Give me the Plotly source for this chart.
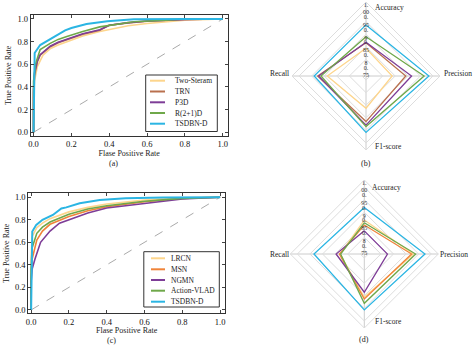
import plotly.graph_objects as go

# ---------------- data ----------------
# ROC panel (a)
fpr_two_steram = [0, 0.0, 0.005, 0.02, 0.05, 0.09, 0.13, 0.18, 0.26, 0.35, 0.5, 0.6, 0.8, 1.0]
tpr_two_steram = [0, 0.30, 0.45, 0.58, 0.68, 0.74, 0.77, 0.80, 0.85, 0.89, 0.94, 0.96, 0.99, 1.0]
fpr_trn = [0, 0.0, 0.005, 0.02, 0.035, 0.088, 0.13, 0.176, 0.26, 0.35, 0.4, 0.5, 0.6, 0.8, 1.0]
tpr_trn = [0, 0.35, 0.50, 0.62, 0.68, 0.755, 0.79, 0.815, 0.865, 0.90, 0.945, 0.965, 0.98, 0.995, 1.0]
fpr_p3d = [0, 0.0, 0.005, 0.02, 0.035, 0.088, 0.13, 0.176, 0.26, 0.35, 0.4, 0.5, 0.6, 0.8, 1.0]
tpr_p3d = [0, 0.38, 0.52, 0.63, 0.685, 0.76, 0.795, 0.82, 0.87, 0.905, 0.945, 0.968, 0.982, 0.996, 1.0]
fpr_r21d = [0, 0.0, 0.01, 0.035, 0.088, 0.13, 0.176, 0.26, 0.35, 0.53, 0.7, 0.8, 1.0]
tpr_r21d = [0, 0.45, 0.60, 0.73, 0.785, 0.82, 0.845, 0.89, 0.93, 0.975, 0.99, 1.0, 1.0]
fpr_tsdbn_a = [0, 0.003, 0.006, 0.035, 0.088, 0.14, 0.167, 0.2, 0.28, 0.39, 0.53, 0.8, 1.0]
tpr_tsdbn_a = [0, 0.60, 0.70, 0.77, 0.82, 0.87, 0.90, 0.92, 0.955, 0.98, 0.997, 1.0, 1.0]

# ROC panel (c)
fpr_lrcn = [0, 0.0, 0.005, 0.03, 0.06, 0.1, 0.2, 0.3, 0.4, 0.6, 0.8, 1.0]
tpr_lrcn = [0, 0.45, 0.65, 0.73, 0.77, 0.81, 0.87, 0.91, 0.94, 0.975, 0.995, 1.0]
fpr_msn = [0, 0.0, 0.005, 0.03, 0.06, 0.1, 0.2, 0.3, 0.4, 0.6, 0.8, 1.0]
tpr_msn = [0, 0.30, 0.45, 0.62, 0.70, 0.76, 0.83, 0.88, 0.915, 0.96, 0.99, 1.0]
fpr_ngmn = [0, 0.0, 0.005, 0.02, 0.05, 0.1, 0.15, 0.2, 0.3, 0.4, 0.6, 0.8, 1.0]
tpr_ngmn = [0, 0.25, 0.36, 0.45, 0.60, 0.70, 0.77, 0.80, 0.86, 0.905, 0.945, 0.985, 1.0]
fpr_action_vlad = [0, 0.0, 0.005, 0.03, 0.06, 0.1, 0.2, 0.3, 0.4, 0.6, 0.8, 1.0]
tpr_action_vlad = [0, 0.35, 0.55, 0.68, 0.735, 0.78, 0.85, 0.895, 0.925, 0.965, 0.99, 1.0]
fpr_tsdbn_c = [0, 0.003, 0.006, 0.027, 0.06, 0.115, 0.16, 0.186, 0.257, 0.363, 0.5, 0.7, 1.0]
tpr_tsdbn_c = [0, 0.60, 0.695, 0.755, 0.80, 0.843, 0.90, 0.91, 0.947, 0.976, 0.99, 0.998, 1.0]

diag = [0, 1]
roc_ticks = [0.0, 0.2, 0.4, 0.6, 0.8, 1.0]

# Radar panels
metrics = ["Accuracy", "Precision", "F1-score", "Recall"]
radar_b = {
    "Two-Steram": [0.844, 0.838, 0.862, 0.888],
    "TRN": [0.866, 0.892, 0.915, 0.926],
    "P3D": [0.868, 0.915, 0.929, 0.922],
    "R(2+1)D": [0.890, 0.965, 0.935, 0.913],
    "TSDBN-D": [0.937, 0.984, 0.958, 0.940],
}
radar_d = {
    "LRCN": [0.869, 0.929, 0.906, 0.830],
    "MSN": [0.849, 0.922, 0.913, 0.833],
    "NGMN": [0.826, 0.826, 0.886, 0.846],
    "Action-VLAD": [0.858, 0.938, 0.930, 0.828],
    "TSDBN-D": [0.919, 0.975, 0.956, 0.934],
}
radar_ticks = [0.75, 0.8, 0.85, 0.9, 0.95, 1.0]
radar_ticktext = ["0.<br>75", "0.<br>8", "0.<br>85", "0.<br>9", "0.<br>95", "1.<br>00"]

colors_a = ["#FDD58C", "#B9704E", "#7E3D97", "#6FA84A", "#2BB5E3"]
colors_c = ["#FDD58C", "#F0843A", "#7E3D97", "#6FA84A", "#2BB5E3"]

FONT = "Liberation Serif"
W, H = 474, 357


def px(x):
    return x / W


def py(y):
    return 1 - y / H


fig = go.Figure()

roc_a = [("Two-Steram", fpr_two_steram, tpr_two_steram), ("TRN", fpr_trn, tpr_trn),
         ("P3D", fpr_p3d, tpr_p3d), ("R(2+1)D", fpr_r21d, tpr_r21d),
         ("TSDBN-D", fpr_tsdbn_a, tpr_tsdbn_a)]
roc_c = [("LRCN", fpr_lrcn, tpr_lrcn), ("MSN", fpr_msn, tpr_msn),
         ("NGMN", fpr_ngmn, tpr_ngmn), ("Action-VLAD", fpr_action_vlad, tpr_action_vlad),
         ("TSDBN-D", fpr_tsdbn_c, tpr_tsdbn_c)]

for xa, ya, curves, cols in [("x", "y", roc_a, colors_a), ("x2", "y2", roc_c, colors_c)]:
    fig.add_trace(go.Scatter(x=diag, y=diag, mode="lines", xaxis=xa, yaxis=ya,
                             line=dict(color="#AAAAAA", width=1, dash="dash"),
                             showlegend=False, hoverinfo="skip"))
    for (name, fx, ty), c in zip(curves, cols):
        fig.add_trace(go.Scatter(x=fx, y=ty, mode="lines", name=name, xaxis=xa, yaxis=ya,
                                 showlegend=False,
                                 line=dict(color=c, width=2 if name == "TSDBN-D" else 1.6)))

for pol, data, cols in [("polar", radar_b, colors_a), ("polar2", radar_d, colors_c)]:
    for (name, vals), c in zip(data.items(), cols):
        fig.add_trace(go.Scatterpolar(r=vals + vals[:1], theta=metrics + metrics[:1],
                                      mode="lines", subplot=pol, showlegend=False, name=name,
                                      line=dict(color=c, width=1.3)))
    fig.add_trace(go.Scatterpolar(r=radar_ticks, theta=[metrics[0]] * len(radar_ticks),
                                  mode="text", text=radar_ticktext, subplot=pol,
                                  showlegend=False, hoverinfo="skip",
                                  textfont=dict(family=FONT, size=6, color="#333")))

axis_common = dict(tickvals=roc_ticks, tickformat=".1f", ticks="inside",
                   ticklen=3, showline=True, linecolor="#333", linewidth=1, mirror="ticks",
                   showgrid=False, zeroline=False, automargin=False,
                   tickfont=dict(family=FONT, size=8.5, color="#111"))


def xax(dom, anchor):
    d = dict(axis_common)
    d.update(domain=dom, range=[-0.015, 1.026], anchor=anchor,
             title=dict(text="Flase Positive Rate", standoff=1,
                        font=dict(family=FONT, size=8, color="#222")))
    return d


def yax(dom, anchor):
    d = dict(axis_common)
    d.update(domain=dom, range=[-0.03, 1.035], anchor=anchor,
             title=dict(text="True Positive Rate", standoff=4,
                        font=dict(family=FONT, size=8, color="#222")))
    return d


polar_common = dict(
    bgcolor="white",
    radialaxis=dict(range=[0.734, 1.028], tickvals=radar_ticks, showticklabels=False,
                    showline=False, gridcolor="#DDDDDD", gridwidth=1, ticks=""),
    angularaxis=dict(rotation=90, direction="clockwise", showticklabels=False,
                     gridcolor="#CCCCCC", linecolor="#DDDDDD", ticks=""),
    gridshape="linear",
)

fig.update_layout(
    width=W, height=H, margin=dict(l=0, r=0, t=0, b=0, autoexpand=False),
    paper_bgcolor="white", plot_bgcolor="white",
    font=dict(family=FONT, color="#222"),
    xaxis=xax([px(30.7), px(227.7)], "y"),
    yaxis=yax([py(135.7), py(15)], "x"),
    xaxis2=xax([px(28.3), px(225)], "y2"),
    yaxis2=yax([py(313.3), py(193.3)], "x2"),
    polar=dict(polar_common, domain=dict(x=[px(292), px(440)], y=[py(150), py(2)])),
    polar2=dict(polar_common, domain=dict(x=[px(290.3), px(438.3)], y=[py(328), py(180)])),
    showlegend=False,
)

# manual compact legends (boxes, sample lines, names)
legend_specs = [
    (roc_a, colors_a, (145.7, 75, 217.3, 131.5), [80.7, 91.5, 102.3, 113.0, 123.7], (150, 165, 173)),
    (roc_c, colors_c, (143.8, 251.7, 219.3, 307.0), [258.3, 269.3, 280.0, 290.7, 301.7], (151, 165, 169)),
]
for curves, cols, box, rows, (lx0, lx1, tx) in legend_specs:
    x0, y0, x1, y1 = box
    fig.add_shape(type="rect", xref="paper", yref="paper", x0=px(x0), x1=px(x1),
                  y0=py(y1), y1=py(y0), line=dict(color="#333", width=1), fillcolor="white",
                  layer="above")
    for (name, _, _), c, ry in zip(curves, cols, rows):
        fig.add_shape(type="line", xref="paper", yref="paper", x0=px(lx0), x1=px(lx1),
                      y0=py(ry), y1=py(ry), line=dict(color=c, width=2), layer="above")
        fig.add_annotation(text=name, x=px(tx), y=py(ry), xref="paper", yref="paper",
                           showarrow=False, xanchor="left", yanchor="middle",
                           font=dict(family=FONT, size=7.5, color="#222"))

labels = [
    ("Accuracy", 389, 7, "center"), ("Recall", 290.5, 73.3, "right"),
    ("Precision", 473.5, 73.3, "right"), ("F1-score", 388, 146, "center"),
    ("Accuracy", 386.7, 187.7, "center"), ("Recall", 290.7, 254, "right"),
    ("Precision", 469.5, 254, "right"), ("F1-score", 388.7, 321.7, "center"),
    ("(a)", 113.3, 164, "center"), ("(b)", 366, 163.3, "center"),
    ("(c)", 111.7, 340.7, "center"), ("(d)", 364.3, 339.3, "center"),
]
for t, x, y, anc in labels:
    fig.add_annotation(text=t, x=px(x), y=py(y), xref="paper", yref="paper", showarrow=False,
                       xanchor=anc, yanchor="middle",
                       font=dict(family=FONT, size=7.5 if len(t) > 3 else 8, color="#222"))

fig.write_html("out.html", config={"displayModeBar": False},
               post_script="document.body.style.margin='0';document.body.style.overflow='hidden';")
